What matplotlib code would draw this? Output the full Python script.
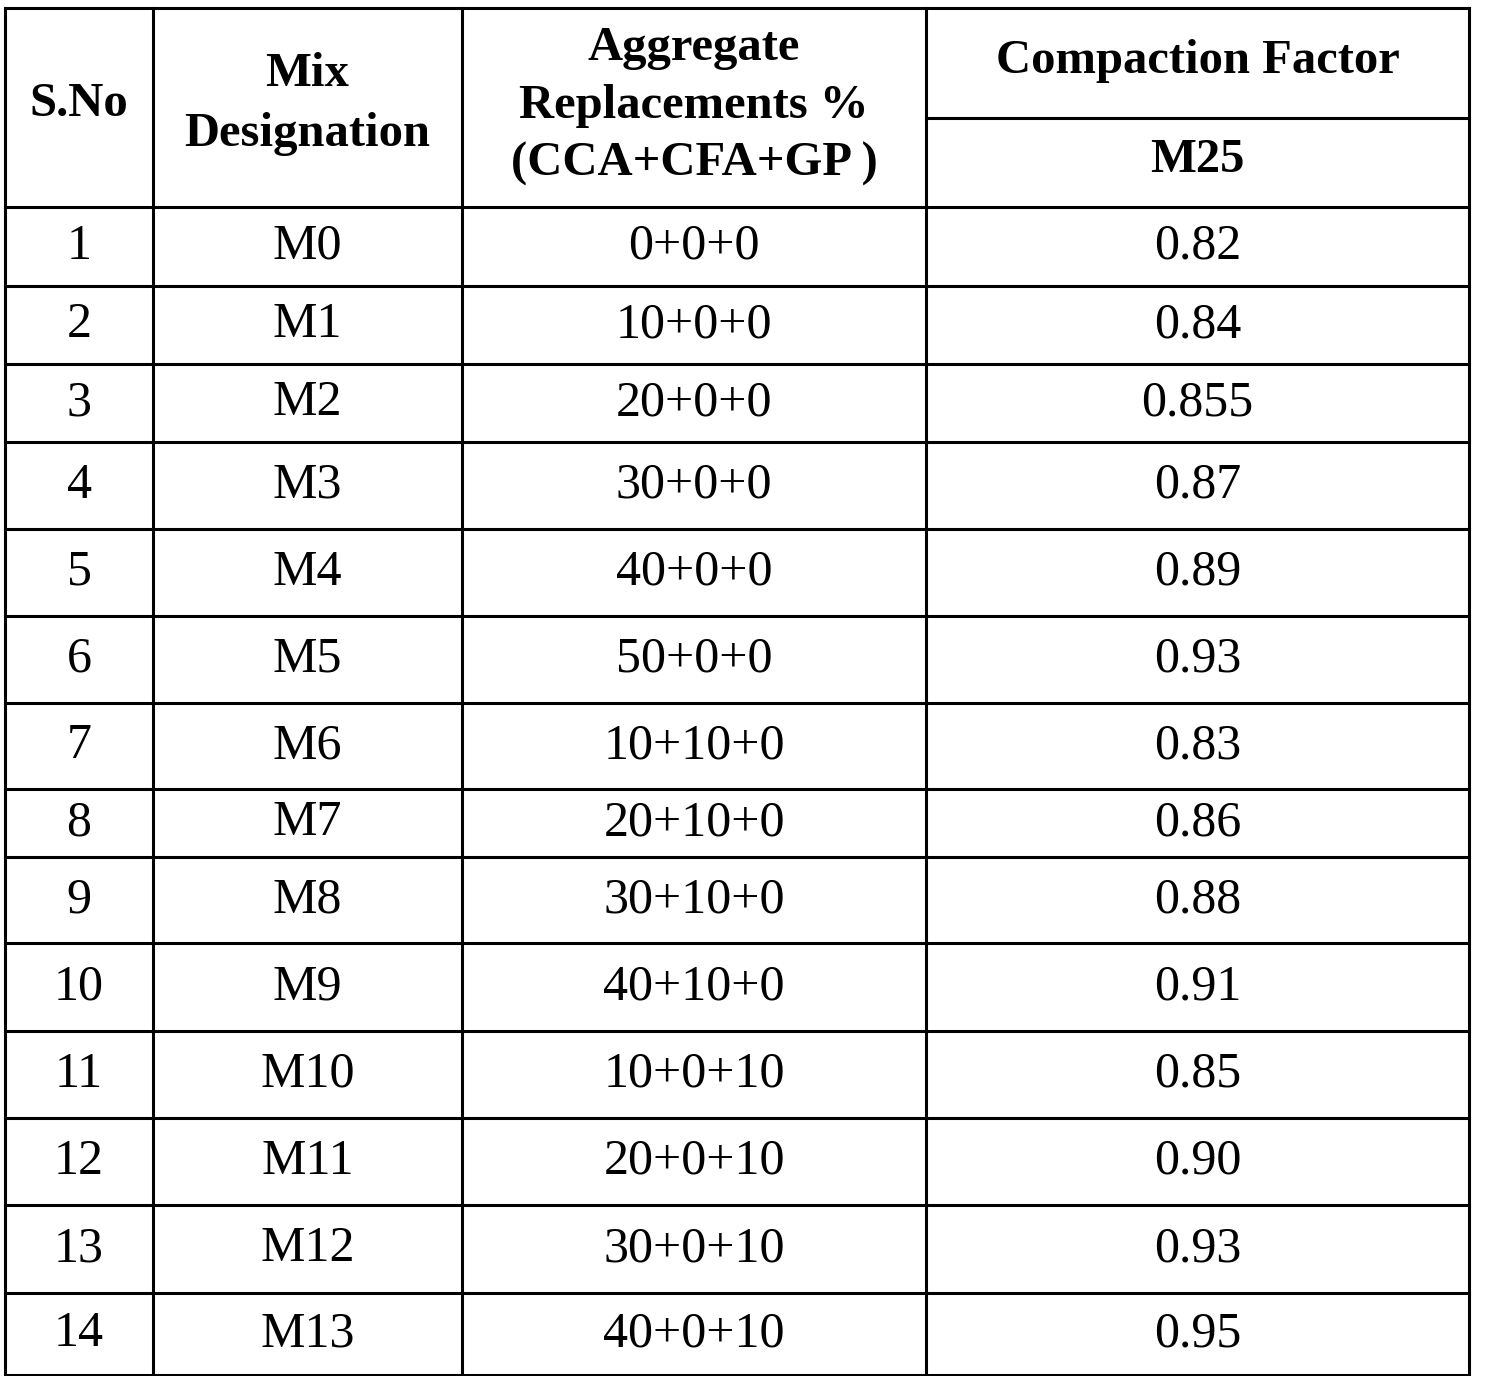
import matplotlib
matplotlib.use("Agg")
import matplotlib.pyplot as plt

sno = [str(i) for i in range(1, 15)]
mix = ["M0","M1","M2","M3","M4","M5","M6","M7","M8","M9","M10","M11","M12","M13"]
repl = ["0+0+0","10+0+0","20+0+0","30+0+0","40+0+0","50+0+0","10+10+0","20+10+0",
        "30+10+0","40+10+0","10+0+10","20+0+10","30+0+10","40+0+10"]
cf = ["0.82","0.84","0.855","0.87","0.89","0.93","0.83","0.86","0.88","0.91","0.85","0.90","0.93","0.95"]

W, H = 1486, 1376
fig = plt.figure(figsize=(W/100, H/100), dpi=100)
ax = fig.add_axes([0, 0, 1, 1])
ax.set_xlim(0, W); ax.set_ylim(H, 0); ax.axis("off")

xs = [5, 153, 462, 926, 1469]
ys = [8, 207, 286, 364, 442, 529, 616, 703, 789, 857, 943, 1031, 1118, 1205, 1293, 1375]
lw = 2.2
for x in xs:
    ax.plot([x, x], [ys[0], ys[-1]], color="black", lw=lw)
for y in ys:
    ax.plot([xs[0], xs[-1]], [y, y], color="black", lw=lw)
ax.plot([xs[3], xs[4]], [118, 118], color="black", lw=lw)

fam = ["Liberation Serif"]
hk = dict(family=fam, fontsize=35, fontweight="bold", ha="center", va="center")
ax.text((xs[0]+xs[1])/2, 104, "S.No", **hk)
ax.text((xs[1]+xs[2])/2, 104, "Mix\nDesignation", linespacing=1.45, **hk)
ax.text((xs[2]+xs[3])/2, 106, "Aggregate\nReplacements %\n(CCA+CFA+GP )", linespacing=1.4, **hk)
ax.text((xs[3]+xs[4])/2, 61, "Compaction Factor", **hk)
ax.text((xs[3]+xs[4])/2, 160, "M25", **hk)

bk = dict(family=fam, fontsize=36, ha="center", va="center")
for i in range(14):
    yc = (ys[i+1]+ys[i+2])/2
    for j, col in enumerate([sno, mix, repl, cf]):
        ax.text((xs[j]+xs[j+1])/2, yc, col[i], **bk)

fig.savefig("out.png", dpi=100, facecolor="white")
